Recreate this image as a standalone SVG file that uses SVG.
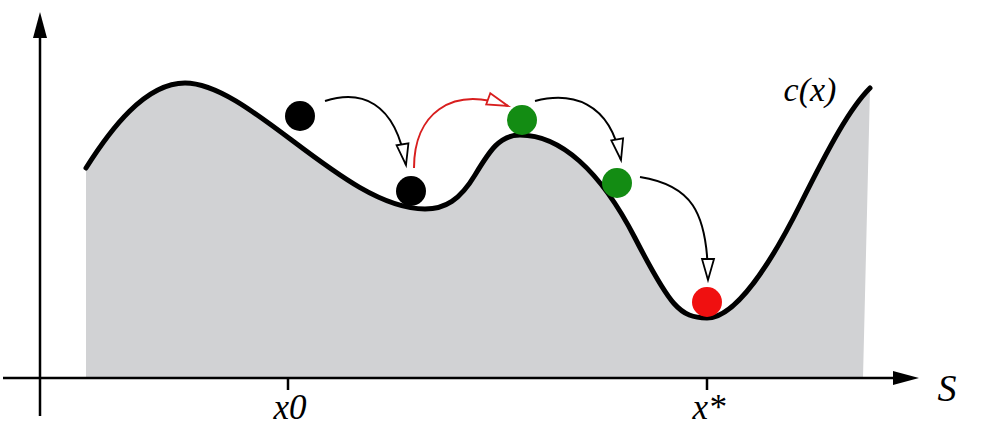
<svg xmlns="http://www.w3.org/2000/svg" width="1000" height="426" viewBox="0 0 1000 426">
<style>
.axis{stroke:#000;stroke-width:2.5;fill:none}
.curve{stroke:#000;stroke-width:5;fill:none;stroke-linecap:round;stroke-linejoin:round}
.conn{fill:none;stroke-width:2}
.lbl{font-family:"Liberation Serif","Times New Roman",serif;font-style:italic;fill:#000}
</style>
<defs>
<marker id="openBlack" markerUnits="userSpaceOnUse" markerWidth="26" markerHeight="16" refX="22" refY="7" orient="auto" overflow="visible">
<path d="M1,1 L22,7 L1,13 Z" fill="#fff" stroke="#000" stroke-width="1.8" stroke-linejoin="miter"/>
</marker>
<marker id="openRed" markerUnits="userSpaceOnUse" markerWidth="26" markerHeight="16" refX="22" refY="7" orient="auto" overflow="visible">
<path d="M1,1 L22,7 L1,13 Z" fill="#fff" stroke="#d81e1e" stroke-width="1.8" stroke-linejoin="miter"/>
</marker>
</defs>
<rect width="1000" height="426" fill="#fff"/>
<g id="landscape">
<path d="M86,168 C110,130 145,83 185,83 C250,83 345,209 425,209 C445,209 460,200 475,175 C490,150 500,135 520,135 C560,135 600,170 635,238 C670,306 680,318 707,318 C735,318 770,265 800,205 C830,145 850,108 870,88 L863,378 L86,378 Z" fill="#d1d2d4"/>
<path class="curve" d="M86,168 C110,130 145,83 185,83 C250,83 345,209 425,209 C445,209 460,200 475,175 C490,150 500,135 520,135 C560,135 600,170 635,238 C670,306 680,318 707,318 C735,318 770,265 800,205 C830,145 850,108 870,88"/>
</g>
<g id="axes">
<line class="axis" x1="40" y1="416" x2="40" y2="34"/>
<polygon points="40,12 33,38 47,38" fill="#000"/>
<line class="axis" x1="3" y1="378" x2="896" y2="378"/>
<polygon points="919,378 893,371 893,385" fill="#000"/>
<line class="axis" x1="288" y1="378" x2="288" y2="390"/>
<line class="axis" x1="707" y1="378" x2="707" y2="390"/>
</g>
<g id="labels">
<text class="lbl" x="290" y="419" font-size="35" text-anchor="middle">x0</text>
<text class="lbl" x="709" y="419" font-size="35" text-anchor="middle">x*</text>
<text class="lbl" x="947" y="401" font-size="38" text-anchor="middle">S</text>
<text class="lbl" x="810" y="101" font-size="34" text-anchor="middle">c(x)</text>
</g>
<g id="ball1"><circle cx="300" cy="116" r="15" fill="#000"/></g>
<g id="ball2"><circle cx="411" cy="191" r="15" fill="#000"/></g>
<g id="ball3"><circle cx="522" cy="120" r="15" fill="#138c13"/></g>
<g id="ball4"><circle cx="617" cy="183" r="15" fill="#138c13"/></g>
<g id="ball5"><circle cx="707" cy="302" r="15" fill="#f01010"/></g>
<g id="connectors">
<path class="conn" stroke="#000" d="M325,101 C360,90 395,100 406,165" marker-end="url(#openBlack)"/>
<path class="conn" stroke="#d81e1e" d="M414,168 C414,115 450,85 508,106" marker-end="url(#openRed)"/>
<path class="conn" stroke="#000" d="M535,101 C570,92 610,100 621,160" marker-end="url(#openBlack)"/>
<path class="conn" stroke="#000" d="M640,177 C690,185 708,210 708,280" marker-end="url(#openBlack)"/>
</g>
</svg>
